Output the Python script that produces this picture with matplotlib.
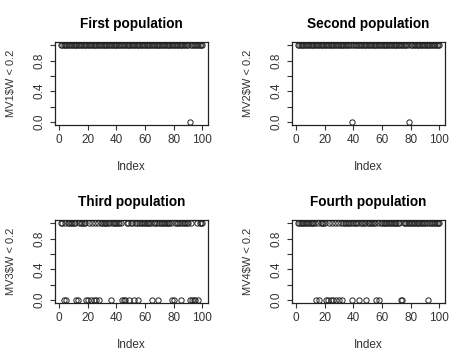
import matplotlib.pyplot as plt
import numpy as np

plt.rcParams['font.family'] = ['Liberation Sans', 'DejaVu Sans']

index = np.arange(1, 101)
titles = ['First population', 'Second population', 'Third population', 'Fourth population']
ylabels = ['MV1$W < 0.2', 'MV2$W < 0.2', 'MV3$W < 0.2', 'MV4$W < 0.2']

# indices where the condition is FALSE (value 0); all others are 1
zeros1 = [91]
zeros2 = [39, 79]
zeros3 = [3, 5, 12, 13, 19, 20, 22, 24, 26, 28, 36, 44, 45, 46, 49, 52, 55,
          65, 69, 79, 80, 85, 91, 93, 94, 95, 97]
zeros4 = [14, 16, 21, 22, 24, 26, 28, 30, 32, 39, 44, 49, 56, 58, 73, 74, 92]
zero_sets = [zeros1, zeros2, zeros3, zeros4]

fig = plt.figure(figsize=(4.74, 3.57), dpi=100)
positions = [[0.116, 0.650, 0.323, 0.232], [0.616, 0.650, 0.323, 0.232],
             [0.116, 0.151, 0.323, 0.232], [0.616, 0.151, 0.323, 0.232]]

for pos, title, ylab, zeros in zip(positions, titles, ylabels, zero_sets):
    ax = fig.add_axes(pos)
    vals = np.where(np.isin(index, zeros), 0, 1)
    ax.plot(index, vals, 'o', mfc='none', mec='#222222', ms=3.8, mew=0.7)
    ax.set_xlim(1 - 3.96, 100 + 3.96)
    ax.set_ylim(-0.04, 1.04)
    ax.set_xticks([0, 20, 40, 60, 80, 100])
    ax.set_yticks([0, 0.2, 0.4, 0.6, 0.8, 1.0])
    ax.set_yticklabels(['0.0', '', '0.4', '', '0.8', ''], rotation=90, va='center')
    ax.tick_params(labelsize=8.5, length=3.5, width=0.8, colors='#333333', pad=3)
    ax.set_title(title, fontsize=9.8, fontweight='bold', pad=10)
    ax.set_xlabel('Index', fontsize=8.5, color='#333333', labelpad=11)
    ax.set_ylabel(ylab, fontsize=8, color='#333333', labelpad=13)
    for s in ax.spines.values():
        s.set_linewidth(0.9)
        s.set_color('#222222')

fig.savefig('out.png', dpi=100)
